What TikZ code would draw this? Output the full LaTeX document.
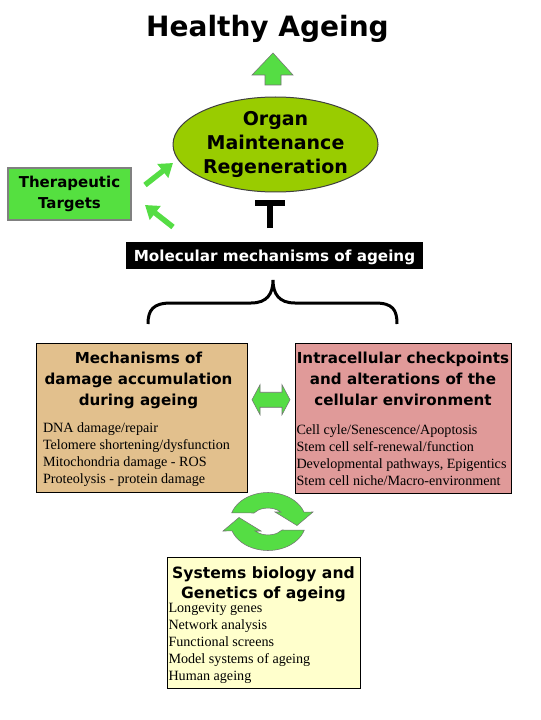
\documentclass[tikz,border=0pt]{standalone}
\usepackage{fontspec}
\setmainfont{Liberation Serif}
\newfontfamily\heavy{DejaVu Sans Bold}
\usetikzlibrary{calc,arrows.meta,shapes.geometric}
\definecolor{tanbox}{HTML}{E2C08D}
\definecolor{pinkbox}{HTML}{E09A99}
\definecolor{yellowbox}{HTML}{FFFFCC}
\definecolor{ttgreen}{HTML}{55E040}
\definecolor{arrowgreen}{HTML}{55DD44}
\definecolor{olivegreen}{HTML}{99CC00}
\begin{document}
\begin{tikzpicture}[x=0.75pt,y=-0.75pt,
  every node/.style={inner sep=0pt,outer sep=0pt},
  itembox/.style={draw=black,line width=0.75pt,anchor=north west,rectangle},
  heading/.style={font=\heavy\fontsize{11.35}{16.1}\selectfont,align=center,anchor=north},
  heading2/.style={font=\heavy\fontsize{11.7}{15}\selectfont,align=center,anchor=north},
  items/.style={font=\fontsize{10.6}{12.75}\selectfont,align=left,anchor=north west},
  blockarrow/.style={fill=arrowgreen,draw=black!55,line width=0.4pt},
  garrow/.style={draw=arrowgreen,line width=4.1pt,-{Triangle[width=12.75pt,length=9.75pt]}},
  tbarline/.style={draw=black,line width=4.5pt},
  bracestyle/.style={draw=black,line width=2.25pt}]
\fill[white] (0,0) rectangle (540,720);
\useasboundingbox (0,0) rectangle (540,720);

% title
\node[font=\heavy\fontsize{21}{25}\selectfont,anchor=base] (title) at (267.5,37) {Healthy Ageing};

% organ ellipse
\node[ellipse,draw=black!75,fill=olivegreen,line width=0.75pt,
  minimum width={205*0.75pt},minimum height={95*0.75pt},
  font=\heavy\fontsize{14.25}{18}\selectfont,align=center] (org) at (275.5,144.5)
  {Organ\\Maintenance\\Regeneration};

% up arrow to title
\coordinate (ua) at ($(org.north)+(-2.5,0)$);
\begin{scope}[shift={(ua)}]
\filldraw[blockarrow] (-8,-12) -- (-8,-22) -- (-21,-22) -- (0,-44) -- (20,-22) -- (8,-22) -- (8,-12) -- cycle;
\end{scope}

% therapeutic targets
\node[draw=black!50,line width=1pt,fill=ttgreen,minimum width={123*0.75pt},minimum height={52*0.75pt},
  font=\heavy\fontsize{11.25}{15.75}\selectfont,align=center] (tt) at (69.5,194) {Therapeutic\\Targets};

% molecular mechanisms
\node[fill=black,text=white,minimum width={297*0.75pt},minimum height={27*0.75pt},
  font=\heavy\fontsize{11.4}{14}\selectfont,text depth=0pt] (mol) at (274.5,255.5) {Molecular mechanisms of ageing};

% green arrows
\draw[garrow] ($(tt.east)+(14,-9)$) -- ($(tt.east)+(42,-31)$);
\draw[garrow] ($(tt.east)+(42,33)$) -- ($(tt.east)+(14,11)$);

% inhibition T
\draw[tbarline] ($(mol.north)+(-4.5,-14)$) -- ($(org.south)+(-5.5,11)$) coordinate (tbar);
\draw[tbarline] ($(tbar)+(-15,0)$) -- ($(tbar)+(15,0)$);

% brace
\coordinate (brtop) at ($(mol.south)+(-1.5,11)$);
\begin{scope}[shift={(brtop)}]
\draw[bracestyle] (-125,44) .. controls (-125,30) and (-120,23) .. (-102,23) -- (-22,23)
  .. controls (-6,23) and (0,14) .. (0,0) .. controls (0,14) and (6,23) .. (22,23) -- (102,23)
  .. controls (120,23) and (124,30) .. (124,44);
\end{scope}

% damage box
\node[itembox,fill=tanbox,minimum width={211*0.75pt},minimum height={149*0.75pt}] (dam) at (36,343) {};
\node[heading] (damtitle) at ($(dam.north)+(-3,8.5)$) {Mechanisms of\\damage accumulation\\during ageing};
\node[items] (damitems) at ($(dam.north west)+(7,79.3)$) {DNA damage/repair\\Telomere shortening/dysfunction\\Mitochondria damage - ROS\\Proteolysis - protein damage};

% cellular box
\node[itembox,fill=pinkbox,minimum width={216*0.75pt},minimum height={150*0.75pt}] (cel) at (295,343) {};
\node[heading] (celtitle) at ($(cel.north)+(0,8.5)$) {Intracellular checkpoints\\and alterations of the\\cellular environment};
\node[items] (celitems) at ($(cel.north west)+(1.5,81.3)$) {Cell cyle/Senescence/Apoptosis\\Stem cell self-renewal/function\\Developmental pathways, Epigentics\\Stem cell niche/Macro-environment};

% double arrow
\coordinate (da) at ($(dam.east)!0.5!(cel.west)+(0,-18)$);
\begin{scope}[shift={(da)}]
\filldraw[blockarrow] (-19,0) -- (-11,-15) -- (-11,-7.5) -- (11,-7.5) -- (11,-15) -- (19,0)
  -- (11,15) -- (11,7.5) -- (-11,7.5) -- (-11,15) -- cycle;
\end{scope}

% systems box
\node[itembox,fill=yellowbox,minimum width={193*0.75pt},minimum height={131*0.75pt}] (sys) at (167,557) {};
\node[heading2] (systitle) at ($(sys.north)+(0,9.5)$) {Systems biology and\\Genetics of ageing};
\node[items] (sysitems) at ($(sys.north west)+(1.5,46.6)$) {Longevity genes\\Network analysis\\Functional screens\\Model systems of ageing\\Human ageing};

% cycle arrows
\coordinate (cyc) at ($(sys.north)+(4.5,-35.5)$);
\begin{scope}[shift={(cyc)}]
\filldraw[blockarrow] (-162.5:38 and 29) arc[start angle=-162.5,end angle=-19,x radius=38,y radius=29]
  -- (45,-9.5) -- (29,4) -- (7,-9.5) -- (-44.7:18 and 13.5)
  arc[start angle=-44.7,end angle=-141,x radius=18,y radius=13.5] -- cycle;
\end{scope}
\begin{scope}[shift={(cyc)},rotate=180]
\filldraw[blockarrow] (-162.5:38 and 29) arc[start angle=-162.5,end angle=-19,x radius=38,y radius=29]
  -- (45,-9.5) -- (29,4) -- (7,-9.5) -- (-44.7:18 and 13.5)
  arc[start angle=-44.7,end angle=-141,x radius=18,y radius=13.5] -- cycle;
\end{scope}
\end{tikzpicture}
\end{document}
